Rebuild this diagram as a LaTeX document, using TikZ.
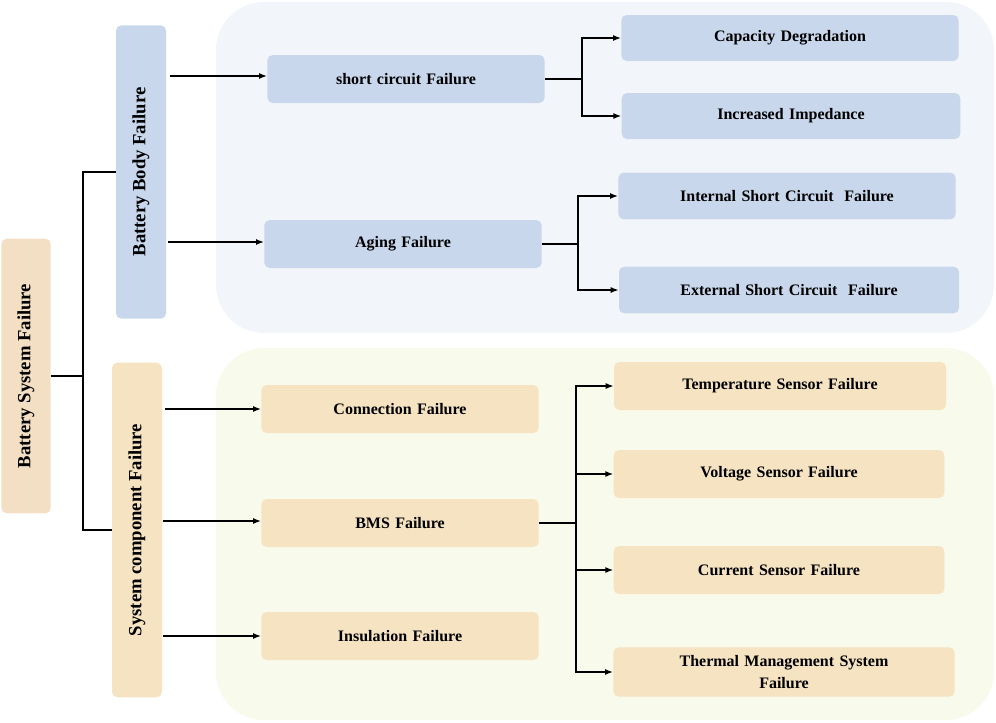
\documentclass[tikz,border=0pt]{standalone}
\usepackage{fontspec}
\setmainfont{Liberation Serif}
\usetikzlibrary{arrows.meta}
\definecolor{bodyblue}{HTML}{C9D7EC}
\definecolor{comptan}{HTML}{F5E3C2}
\definecolor{roottan}{HTML}{F2DFC4}
\definecolor{panelblue}{HTML}{F2F6FA}
\definecolor{panelgreen}{HTML}{F8FAEC}
\newcommand{\vlabel}[1]{\rotatebox{90}{\fontsize{14}{15}\selectfont #1}}
\tikzset{%
  >={Latex[length=6pt,width=4.5pt]}, % default arrow style
  box/.style={rounded corners=4pt,inner sep=1pt,align=center,
    font=\bfseries\fontsize{12}{13}\selectfont,text width=#1},
  box/.default=200pt,
  blue box/.style={box,fill=bodyblue},
  tan box/.style={box,fill=comptan},
  wire/.style={line width=1.3pt},
  link/.style={line width=1.1pt,->}
}
\begin{document}
\begin{tikzpicture}[x=0.75pt,y=-0.75pt]
  \useasboundingbox (0,0) rectangle (996,722);
  % panels
  \fill[panelblue,rounded corners=36pt] (216,2) rectangle (994,333);
  \fill[panelgreen,rounded corners=36pt] (216,348) rectangle (994,720);
  % first level
  \node[box,fill=roottan,minimum height=206pt,minimum width=37pt,text width=] (root) at (26,376) {\vlabel{Battery System Failure}};
  \node[blue box,minimum height=220pt,minimum width=37.5pt,text width=] (body) at (141,172) {\vlabel{Battery Body Failure}};
  \node[tan box,minimum height=251pt,minimum width=37.5pt,text width=] (comp) at (137,530) {\vlabel{System component Failure}};
  % second level
  \node[blue box,text width=206pt,minimum height=36pt] (short) at (406,79) {short circuit Failure};
  \node[blue box,text width=206pt,minimum height=36pt] (aging) at (403,244) {Aging Failure};
  \node[tan box,text width=206pt,minimum height=36pt] (conn) at (400,409) {Connection Failure};
  \node[tan box,text width=206pt,minimum height=36pt] (bms) at (400,523) {BMS Failure};
  \node[tan box,text width=206pt,minimum height=36pt] (insu) at (400,636) {Insulation Failure};
  % third level
  \node[blue box,text width=251pt,minimum height=34.5pt] (cap) at (790,38) {Capacity Degradation};
  \node[blue box,text width=252pt,minimum height=34.5pt] (imp) at (791,116) {Increased Impedance};
  \node[blue box,text width=251pt,minimum height=35pt] (isc) at (787,196) {Internal Short Circuit~~Failure};
  \node[blue box,text width=253pt,minimum height=35pt] (esc) at (789,290) {External Short Circuit~~Failure};
  \node[tan box,text width=247pt,minimum height=36pt] (temp) at (780,386) {Temperature Sensor Failure};
  \node[tan box,text width=246pt,minimum height=36pt] (volt) at (779,474) {Voltage Sensor Failure};
  \node[tan box,text width=246pt,minimum height=36pt] (curr) at (779,570) {Current Sensor Failure};
  \node[tan box,text width=254pt,minimum height=37pt,font=\bfseries\fontsize{12}{17}\selectfont] (therm) at (784,672) {Thermal Management System\\Failure};
  % root branches
  \coordinate (rj) at (83,376);
  \draw[wire] (root.east) -- (rj);
  \draw[wire] (body.west) -| (rj) |- (comp.west);
  % arrows from first level
  \draw[link] (body.east |- short) ++(4,-3) -- ([yshift=2.25pt]short.west);
  \draw[link] (body.east |- aging) ++(2,-2) -- ([yshift=1.5pt]aging.west);
  \draw[link] (comp.east |- conn) ++(3,0) -- (conn.west);
  \draw[link] (comp.east |- bms) ++(1,-2) -- ([yshift=1.5pt]bms.west);
  \draw[link] (comp.east |- insu) ++(1,0) -- (insu.west);
  % third level branches
  \coordinate (sj) at (582,79);
  \coordinate (aj) at (578,244);
  \coordinate (bj) at (576,523);
  \draw[wire] (short.east) -- (sj);
  \draw[wire] (aging.east) -- (aj);
  \draw[wire] (bms.east) -- (bj);
  \draw[link] (sj) |- (cap.west);
  \draw[link] (sj) |- (imp.west);
  \draw[link] (aj) |- (isc.west);
  \draw[link] (aj) |- (esc.west);
  \foreach \t in {temp,volt,curr,therm}
    \draw[link] (bj) |- (\t.west);
\end{tikzpicture}
\end{document}
